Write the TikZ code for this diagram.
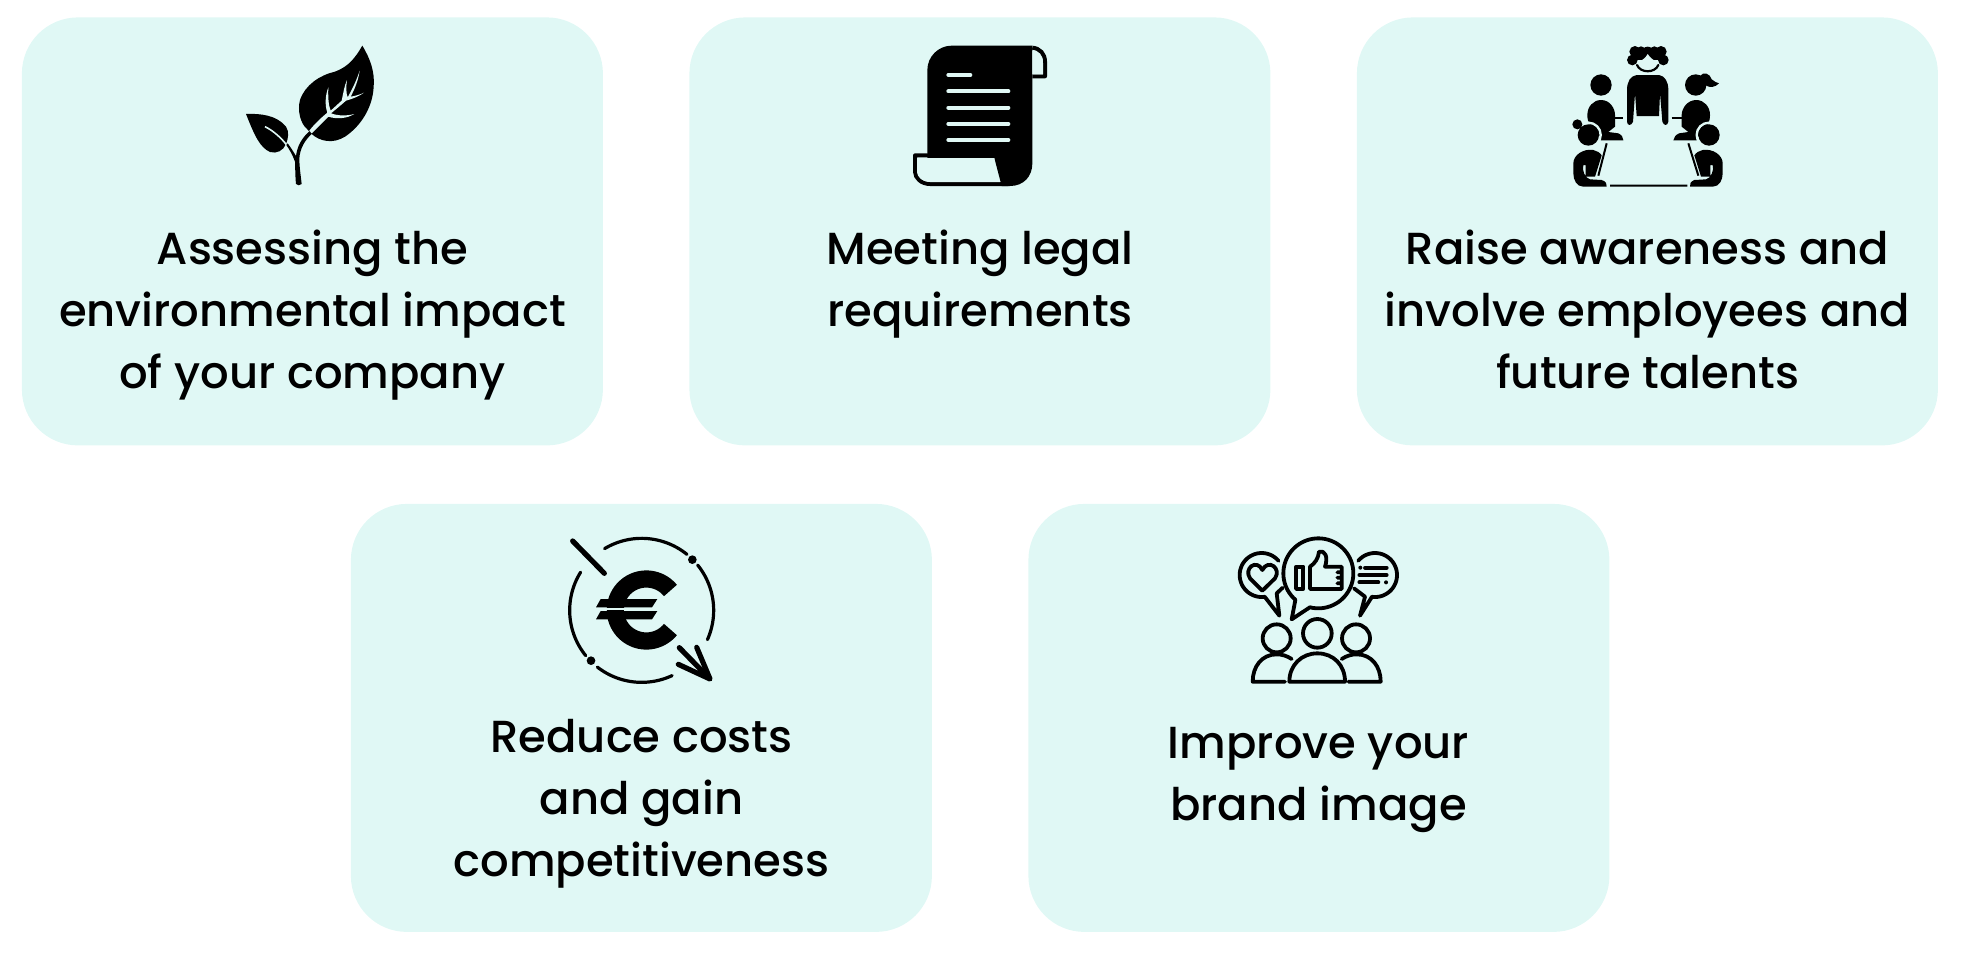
\documentclass[tikz,border=0pt]{standalone}
\usepackage{fontspec}
\setmainfont{Poppins Medium}
\definecolor{boxc}{HTML}{E0F8F5}
\tikzset{
  card/.style={fill=boxc,draw=none,rounded corners=28pt,minimum width=290.5pt,minimum height=214pt,inner sep=0pt,anchor=north west},
  lbl/.style={align=center,anchor=north,inner sep=0pt,font=\fontsize{22.45}{31}\selectfont,text=black},
  icon/.style={x=0.16667pt,y=-0.16667pt},
  ln/.style={draw=black,line width=#1,line cap=round,line join=round,fill=none},
  gap/.style={draw=boxc,line width=#1,line cap=round,line join=round,fill=none}
}
\begin{document}
\begin{tikzpicture}[x=0.5pt,y=-0.5pt]
\useasboundingbox (0,0) rectangle (1963,953);
\node[card] (c1) at (21.5,17) {};
\node[card] (c2) at (689,17) {};
\node[card] (c3) at (1356.5,17) {};
\node[card] (c4) at (350.5,503.5) {};
\node[card] (c5) at (1028,503.5) {};
\node[lbl] (t1) at (312.5,230) {Assessing the\\environmental impact\\of your company};
\node[lbl] (t2) at (980,230) {Meeting legal\\requirements};
\node[lbl] (t3) at (1647.5,230) {Raise awareness and\\involve employees and\\future talents};
\node[lbl] (t4) at (641.5,718.5) {Reduce costs\\and gain\\competitiveness};
\node[lbl] (t5) at (1318.5,727) {Improve your\\brand image};

% leaf
\begin{scope}[shift={(220,30)},icon]
\fill (427,47) .. controls (450,85) and (465,125) .. (461,170) .. controls (458,235) and (420,290) .. (375,320) .. controls (340,342) and (300,335) .. (275,312) -- (262,298) .. controls (240,280) and (232,240) .. (240,210) .. controls (255,165) and (300,135) .. (345,125) .. controls (385,110) and (405,85) .. (427,47) -- cycle;
\fill[boxc] (268,302) .. controls (285,280) and (305,262) .. (322,248) .. controls (314,225) and (316,195) .. (325,172) .. controls (324,200) and (325,225) .. (332,242) -- (365,212) .. controls (370,190) and (372,170) .. (381,150) .. controls (378,170) and (378,190) .. (383,202) .. controls (398,175) and (410,150) .. (419,122) .. controls (415,150) and (405,175) .. (392,200) .. controls (405,198) and (420,194) .. (432,188) .. controls (418,198) and (400,206) .. (378,212) .. controls (360,228) and (345,240) .. (333,250) .. controls (355,258) and (380,258) .. (403,252) .. controls (380,266) and (350,268) .. (325,260) .. controls (305,280) and (290,295) .. (275,310) -- cycle;
\fill (78,252) .. controls (120,250) and (170,255) .. (198,290) .. controls (208,305) and (205,325) .. (198,342) .. controls (190,362) and (170,372) .. (150,366) .. controls (120,352) and (105,320) .. (78,252) -- cycle;
\draw[gap=0.8pt,line cap=butt] (135,290) .. controls (160,302) and (185,325) .. (200,345);
\fill (268,304) -- (275,312) .. controls (255,330) and (240,355) .. (238,385) .. controls (238,410) and (242,435) .. (245,462) .. controls (240,467) and (232,467) .. (228,462) .. controls (226,445) and (226,425) .. (225,395) .. controls (218,375) and (208,358) .. (199,345) -- (203,340) .. controls (212,352) and (222,368) .. (228,378) .. controls (232,345) and (248,322) .. (268,304) -- cycle;
\end{scope}
% scroll
\begin{scope}[shift={(895,30)},icon]
\fill (97,384) -- (97,120) .. controls (97,80) and (130,47) .. (170,47) -- (412,47) -- (412,400) .. controls (412,440) and (385,468) .. (345,468) -- (320,468) -- (298,384) -- cycle;
\draw[ln=2pt] (97,376) -- (60,376) -- (60,425) .. controls (60,445) and (80,462) .. (105,462) -- (340,462);
\draw[ln=2pt,line cap=butt] (412,53) .. controls (435,55) and (450,72) .. (450,95) -- (450,139) -- (412,139);
\fill[boxc] (298,384) -- (66,384) -- (66,425) .. controls (66,442) and (85,456) .. (105,456) -- (315,456) .. controls (303,447) and (298,432) .. (298,410) -- cycle;
\foreach \yy/\xe in {135/226,184/340,233/340,282/340,330/340} \draw[gap=2pt] (160,\yy) -- (\xe,\yy);
\fill[boxc] (412,62) .. controls (432,65) and (444,78) .. (444,100) -- (444,133) -- (412,133) -- cycle;
\end{scope}
% meeting
\begin{scope}[shift={(1555,30)},icon]
\fill (240,65) circle[radius=17] (318,65) circle[radius=17] (232,90) circle[radius=16] (325,90) circle[radius=16] (278,68) circle[radius=18] (258,62) circle[radius=13] (298,62) circle[radius=13];
\fill (240,60) rectangle (318,90);
\fill[boxc] (248,97) .. controls (260,92) and (272,84) .. (278,72) .. controls (285,84) and (298,92) .. (308,97) .. controls (310,115) and (292,124) .. (278,124) .. controls (262,124) and (246,115) .. (248,97) -- cycle;
\draw[ln=1.1pt] (246,105) .. controls (256,130) and (300,130) .. (310,105);
\fill (245,135) -- (312,135) .. controls (330,138) and (340,155) .. (340,180) -- (340,275) .. controls (338,288) and (326,288) .. (322,275) -- (315,190) -- (312,258) -- (245,258) -- (240,190) -- (234,275) .. controls (230,288) and (216,288) .. (216,275) -- (216,180) .. controls (216,155) and (226,138) .. (245,135) -- cycle;
\fill (138,165) circle[radius=32];
\fill (97,255) .. controls (97,230) and (115,210) .. (138,210) .. controls (165,210) and (180,235) .. (180,255) -- (180,290) -- (160,306) -- (190,310) .. controls (200,315) and (205,322) .. (205,331) -- (136,331) .. controls (136,310) and (97,300) .. (97,255) -- cycle;
\draw[ln=1pt,line cap=butt] (180,263) -- (205,263);
\fill (422,165) circle[radius=32];
\fill (435,138) .. controls (445,124) and (465,130) .. (470,148) .. controls (478,155) and (485,158) .. (492,160) .. controls (480,172) and (465,175) .. (450,165) -- cycle;
\fill (465,255) .. controls (465,230) and (447,210) .. (424,210) .. controls (397,210) and (380,235) .. (380,255) -- (380,290) -- (400,306) -- (372,310) .. controls (362,315) and (356,322) .. (355,331) -- (426,331) .. controls (426,310) and (465,300) .. (465,255) -- cycle;
\draw[ln=1pt,line cap=butt] (350,263) -- (380,263);
\draw[gap=1.2pt] (100,315) circle[radius=37];
\fill (100,315) circle[radius=32] (67,283) circle[radius=15];
\fill (55,400) .. controls (55,375) and (85,355) .. (115,360) .. controls (125,362) and (135,368) .. (140,376) -- (120,440) -- (92,440) -- (92,405) -- (85,405) .. controls (80,420) and (90,445) .. (105,448) -- (140,450) .. controls (155,455) and (155,462) .. (155,470) -- (85,470) .. controls (65,470) and (55,450) .. (55,430) -- cycle;
\draw[gap=1.2pt] (462,315) circle[radius=37];
\fill (462,315) circle[radius=32];
\fill (503,400) .. controls (503,375) and (473,355) .. (443,360) .. controls (433,362) and (423,368) .. (418,376) -- (438,440) -- (466,440) -- (466,405) -- (473,405) .. controls (478,420) and (468,445) .. (453,448) -- (418,450) .. controls (405,455) and (405,462) .. (405,470) -- (473,470) .. controls (493,470) and (503,450) .. (503,430) -- cycle;
\draw[ln=1pt,line cap=butt] (155,340) -- (130,437) (400,340) -- (430,437) (165,467) -- (397,467);
\end{scope}
% euro
\begin{scope}[shift={(550,525)},icon]
\draw[ln=1.6pt] plot[domain=-121:-51,samples=30] ({275+216*cos(\x)},{256+216*sin(\x)});
\draw[ln=1.6pt] plot[domain=-39:24,samples=30] ({275+216*cos(\x)},{256+216*sin(\x)});
\draw[ln=1.6pt] plot[domain=65:128,samples=30] ({275+216*cos(\x)},{256+216*sin(\x)});
\draw[ln=1.6pt] plot[domain=141:212,samples=30] ({275+216*cos(\x)},{256+216*sin(\x)});
\fill (427,104) circle[radius=13] (123,407) circle[radius=13];
\draw[ln=2.6pt] (68,48) -- (163,145);
\draw[line width=8.6pt] plot[domain=-39:-321,samples=60] ({289+93*cos(\x)},{255+93*sin(\x)});
\fill (152,222) -- (322,222) -- (306,247) -- (138,247) -- cycle;
\fill (152,258) -- (322,258) -- (306,283) -- (138,283) -- cycle;
\draw[line width=1.2pt,draw=boxc] (136,252.5) -- (325,252.5);
\draw[ln=2.6pt] (388,368) -- (470,452);
\draw[ln=2.6pt] (440,367) -- (480,462) -- (385,418);
\end{scope}
% social
\begin{scope}[shift={(1230,525)},icon]
\draw[ln=1.9pt] plot[domain=104:-229,samples=70] ({265+105*cos(\x)},{145+105*sin(\x)}) -- (185,283) -- cycle;
\draw[ln=1.9pt] plot[domain=-40:-278,samples=50] ({95+66*cos(\x)},{150+66*sin(\x)}) -- (148,272) -- (140,205) -- (158,188);
\draw[ln=1.9pt] plot[domain=-140:98,samples=50] ({435+66*cos(\x)},{150+66*sin(\x)}) -- (390,272) -- (405,215) -- (372,190);
\draw[ln=1.9pt] (97,197) -- (60,160) .. controls (40,130) and (80,100) .. (97,135) .. controls (115,100) and (155,130) .. (135,160) -- cycle;
\draw[ln=1.9pt] (198,125) rectangle (220,192);
\draw[ln=1.9pt] (240,125) .. controls (255,115) and (265,100) .. (267,80) .. controls (285,75) and (295,95) .. (285,125) -- (335,125) -- (335,142) -- (322,142) -- (335,142) -- (335,158) -- (322,158) -- (335,158) -- (335,175) -- (322,175) -- (335,175) -- (335,192) -- (240,192) -- cycle;
\draw[ln=1.9pt] (405,128) -- (470,128) (388,150) -- (470,150) (388,172) -- (445,172);
\fill (391,128) circle[radius=6] (468,172) circle[radius=6];
\draw[ln=1.9pt] (262,325) circle[radius=43];
\draw[ln=1.9pt] (178,470) .. controls (178,420) and (215,385) .. (262,385) .. controls (310,385) and (345,420) .. (345,470) -- cycle;
\draw[ln=1.9pt] (140,340) circle[radius=42];
\draw[ln=1.9pt] (185,402) .. controls (170,392) and (155,388) .. (140,388) .. controls (95,388) and (68,425) .. (68,470) -- (165,470);
\draw[ln=1.9pt] (378,340) circle[radius=42];
\draw[ln=1.9pt] (335,402) .. controls (350,392) and (365,388) .. (380,388) .. controls (425,388) and (452,425) .. (452,470) -- (355,470);
\end{scope}
\end{tikzpicture}
\end{document}
